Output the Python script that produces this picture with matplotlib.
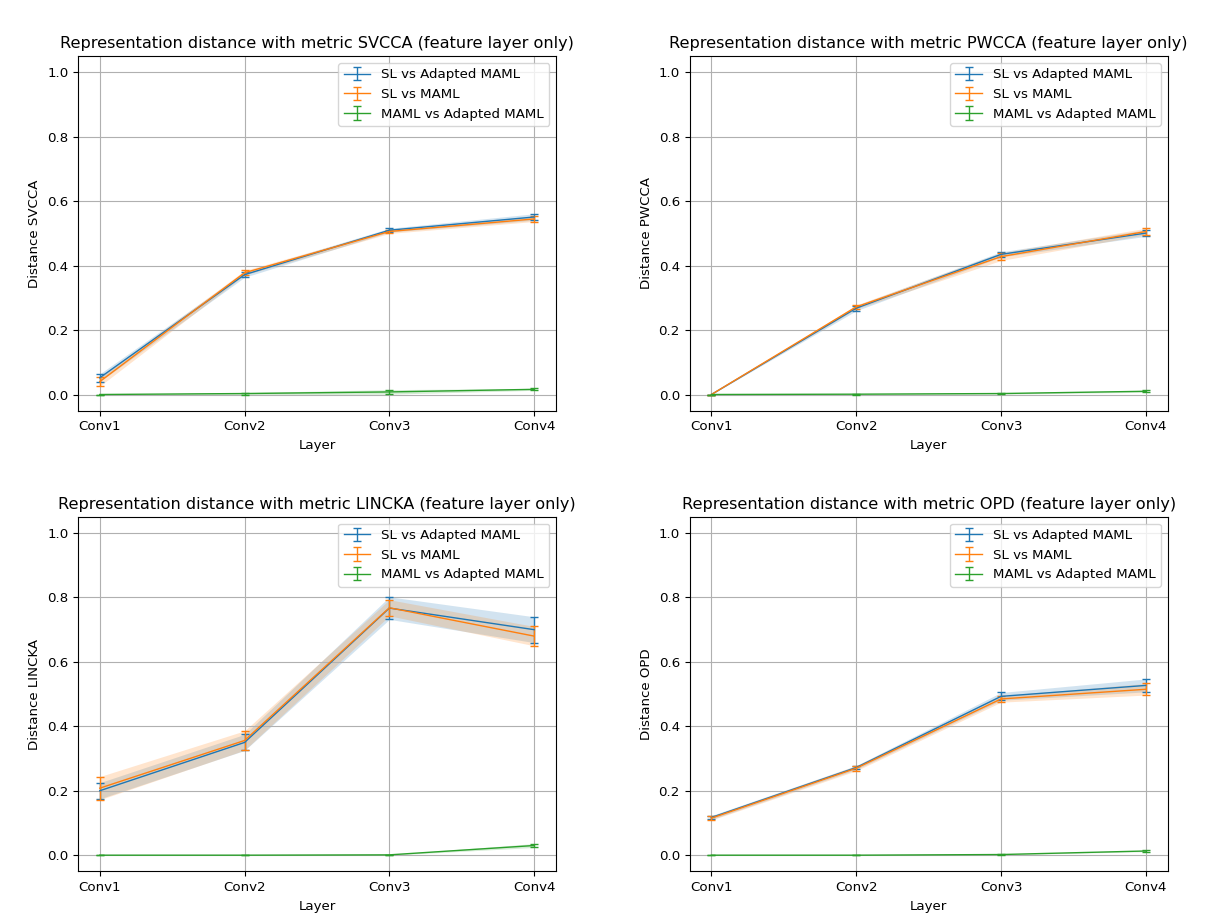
import matplotlib
matplotlib.use("Agg")
import matplotlib.pyplot as plt
import numpy as np

# --- data ---
layers = ["Conv1", "Conv2", "Conv3", "Conv4"]
metrics = ["SVCCA", "PWCCA", "LINCKA", "OPD"]
labels = ["SL vs Adapted MAML", "SL vs MAML", "MAML vs Adapted MAML"]

svcca_sl_adapted = [0.052, 0.372, 0.510, 0.551]
svcca_sl_adapted_err = [0.012, 0.008, 0.006, 0.010]
svcca_sl_maml = [0.040, 0.378, 0.506, 0.545]
svcca_sl_maml_err = [0.014, 0.007, 0.006, 0.008]
svcca_maml_adapted = [0.000, 0.003, 0.008, 0.016]
svcca_maml_adapted_err = [0.000, 0.003, 0.007, 0.003]

pwcca_sl_adapted = [0.000, 0.268, 0.435, 0.501]
pwcca_sl_adapted_err = [0.000, 0.008, 0.008, 0.010]
pwcca_sl_maml = [0.000, 0.272, 0.428, 0.506]
pwcca_sl_maml_err = [0.000, 0.006, 0.012, 0.010]
pwcca_maml_adapted = [0.000, 0.001, 0.003, 0.010]
pwcca_maml_adapted_err = [0.000, 0.001, 0.002, 0.003]

lincka_sl_adapted = [0.200, 0.350, 0.767, 0.700]
lincka_sl_adapted_err = [0.025, 0.025, 0.035, 0.040]
lincka_sl_maml = [0.208, 0.356, 0.768, 0.680]
lincka_sl_maml_err = [0.036, 0.030, 0.025, 0.030]
lincka_maml_adapted = [0.000, 0.000, 0.001, 0.030]
lincka_maml_adapted_err = [0.000, 0.000, 0.001, 0.006]

opd_sl_adapted = [0.117, 0.272, 0.493, 0.527]
opd_sl_adapted_err = [0.006, 0.006, 0.012, 0.020]
opd_sl_maml = [0.115, 0.270, 0.485, 0.515]
opd_sl_maml_err = [0.006, 0.008, 0.010, 0.018]
opd_maml_adapted = [0.000, 0.000, 0.002, 0.013]
opd_maml_adapted_err = [0.000, 0.000, 0.001, 0.002]

series = {
    "SVCCA": [(svcca_sl_adapted, svcca_sl_adapted_err),
              (svcca_sl_maml, svcca_sl_maml_err),
              (svcca_maml_adapted, svcca_maml_adapted_err)],
    "PWCCA": [(pwcca_sl_adapted, pwcca_sl_adapted_err),
              (pwcca_sl_maml, pwcca_sl_maml_err),
              (pwcca_maml_adapted, pwcca_maml_adapted_err)],
    "LINCKA": [(lincka_sl_adapted, lincka_sl_adapted_err),
               (lincka_sl_maml, lincka_sl_maml_err),
               (lincka_maml_adapted, lincka_maml_adapted_err)],
    "OPD": [(opd_sl_adapted, opd_sl_adapted_err),
            (opd_sl_maml, opd_sl_maml_err),
            (opd_maml_adapted, opd_maml_adapted_err)],
}
colors = ["tab:blue", "tab:orange", "tab:green"]

# reference looks a touch smaller than default sizes
plt.rcParams["font.size"] = 9.6
plt.rcParams["axes.titlesize"] = 11.6

fig, axes = plt.subplots(2, 2, figsize=(12.29, 9.22), dpi=100)
fig.subplots_adjust(left=0.0635, right=0.950, top=0.939, bottom=0.055,
                    wspace=0.28, hspace=0.30)

x = np.arange(len(layers))
for ax, metric in zip(axes.flat, metrics):
    for (mean, err), label, color in zip(series[metric], labels, colors):
        mean = np.array(mean)
        err = np.array(err)
        ax.errorbar(x, mean, yerr=err, color=color, capsize=3, label=label,
                    linewidth=1)
        ax.fill_between(x, mean - err, mean + err, color=color, alpha=0.2,
                        linewidth=0)
    ax.set_xticks(x)
    ax.set_xticklabels(layers)
    ax.set_ylim(-0.05, 1.05)
    ax.set_xlabel("Layer")
    ax.set_ylabel("Distance " + metric)
    ax.set_title("Representation distance with metric %s (feature layer only)" % metric)
    ax.grid(True)
    ax.legend(loc="upper right")

fig.savefig("out.png", dpi=100)
